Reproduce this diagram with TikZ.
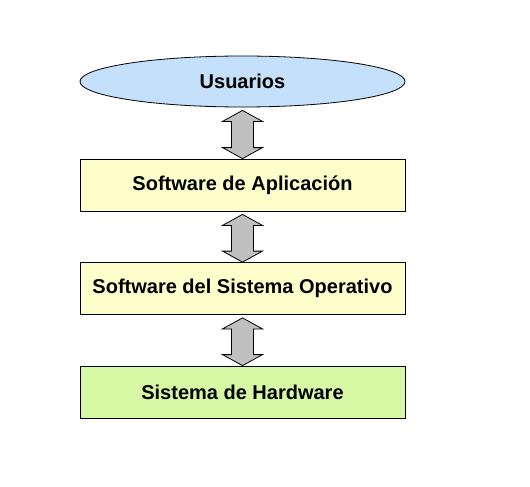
\documentclass[tikz,border=0pt]{standalone}
\usepackage{fontspec}
\setmainfont{Liberation Sans}
\usetikzlibrary{shapes.geometric,calc}

\definecolor{userblue}{RGB}{196,224,250}
\definecolor{softyellow}{RGB}{255,255,204}
\definecolor{hwgreen}{RGB}{214,248,164}
\definecolor{arrowgray}{RGB}{192,192,192}

\begin{document}
\begin{tikzpicture}[x=1pt,y=1pt,node distance=103.5pt,line width=0.8pt,
                    every node/.style={font=\fontsize{20}{24}\selectfont\bfseries}]
  \tikzstyle{layer}=[draw=black,rectangle,minimum width=325pt,minimum height=52pt,inner sep=0pt]
  \tikzstyle{twoway}=[draw=black,fill=arrowgray,to path={
      let \p1=(\tikztostart), \p2=(\tikztotarget) in
      (\x1,\y1-3) -- (\x1+20,\y1-14) -- (\x1+11,\y1-14) -- (\x1+11,\y2+11)
      -- (\x1+20,\y2+11) -- (\x1,\y2) -- (\x1-20,\y2+11) -- (\x1-11,\y2+11)
      -- (\x1-11,\y1-14) -- (\x1-20,\y1-14) -- cycle}]

  \useasboundingbox (0,0) rectangle (530,-487);

  \node[ellipse,draw,fill=userblue,minimum width=325pt,minimum height=51pt,inner sep=0pt]
        (usr) at (242.5,-81.5) {Usuarios};
  \node[layer,fill=softyellow] (app) [below of=usr] {Software de Aplicación};
  \node[layer,fill=softyellow] (os)  [below of=app] {Software del Sistema Operativo};
  \node[layer,fill=hwgreen]    (hw)  [below of=os]  {Sistema de Hardware};

  \path (usr.south) edge[twoway] (app.north)
        (app.south) edge[twoway] (os.north)
        (os.south)  edge[twoway] (hw.north);
\end{tikzpicture}
\end{document}
